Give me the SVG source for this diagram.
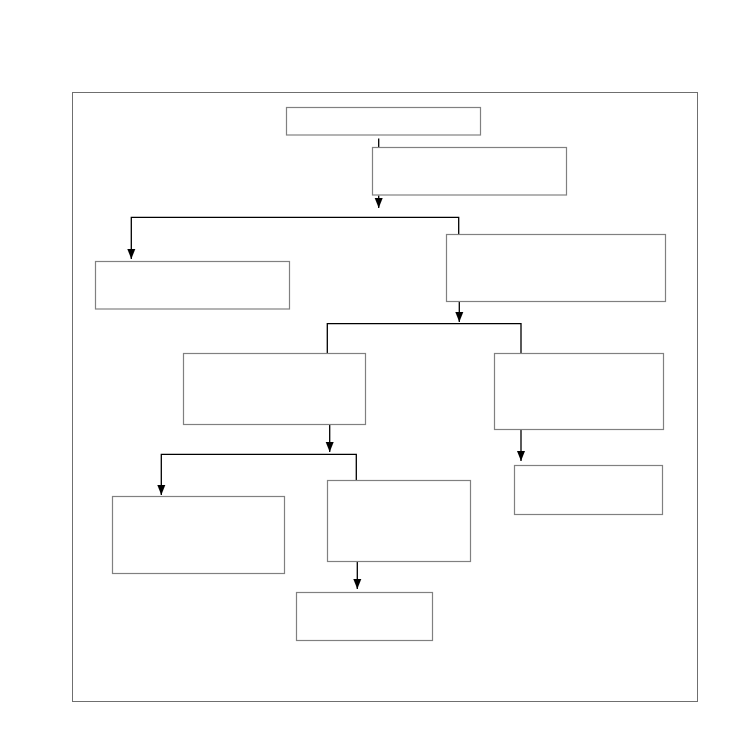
<svg xmlns="http://www.w3.org/2000/svg" width="755" height="737" viewBox="0 0 755 737">
<style>
.frame{fill:none;stroke:#6f6f6f;stroke-width:1}
.node{fill:#fff;stroke:#808080;stroke-width:1.2}
.conn{fill:none;stroke:#000;stroke-width:1.3}
</style>
<defs>
<marker id="ah" markerUnits="userSpaceOnUse" markerWidth="10" markerHeight="11" refX="4" refY="10" orient="0" viewBox="0 0 8 11">
<path d="M0,0 L8,0 L4,10 Z" fill="#000"/>
</marker>
</defs>
<rect width="755" height="737" fill="#fff"/>
<rect class="frame" x="72.5" y="92.5" width="625" height="609"/>
<g id="connectors">
<line class="conn" x1="378.7" y1="138.5" x2="378.7" y2="147.5"/>
<line class="conn" x1="378.7" y1="195.5" x2="378.7" y2="208" marker-end="url(#ah)"/>
<polyline class="conn" points="131.3,259 131.3,217.3 458.7,217.3 458.7,234.5" marker-start="url(#ah)"/>
<line class="conn" x1="459.3" y1="301.5" x2="459.3" y2="322" marker-end="url(#ah)"/>
<polyline class="conn" points="327.3,353.5 327.3,323.7 521,323.7 521,353.5"/>
<line class="conn" x1="329.7" y1="424.5" x2="329.7" y2="452" marker-end="url(#ah)"/>
<polyline class="conn" points="161.3,495 161.3,454.3 356.3,454.3 356.3,480.5" marker-start="url(#ah)"/>
<line class="conn" x1="521" y1="429.5" x2="521" y2="461" marker-end="url(#ah)"/>
<line class="conn" x1="357.3" y1="561.5" x2="357.3" y2="589" marker-end="url(#ah)"/>
</g>
<g id="n1"><rect class="node" x="286.5" y="107.5" width="194" height="27.5"/></g>
<g id="n2"><rect class="node" x="372.5" y="147.5" width="194" height="47.5"/></g>
<g id="n3"><rect class="node" x="95.5" y="261.5" width="194" height="47.5"/></g>
<g id="n4"><rect class="node" x="446.5" y="234.5" width="219" height="67"/></g>
<g id="n5"><rect class="node" x="183.5" y="353.5" width="182" height="71"/></g>
<g id="n6"><rect class="node" x="494.5" y="353.5" width="169" height="76"/></g>
<g id="n7"><rect class="node" x="112.5" y="496.5" width="172" height="77"/></g>
<g id="n8"><rect class="node" x="327.5" y="480.5" width="143" height="81"/></g>
<g id="n9"><rect class="node" x="514.5" y="465.5" width="148" height="49"/></g>
<g id="n10"><rect class="node" x="296.5" y="592.5" width="136" height="48"/></g>
</svg>
